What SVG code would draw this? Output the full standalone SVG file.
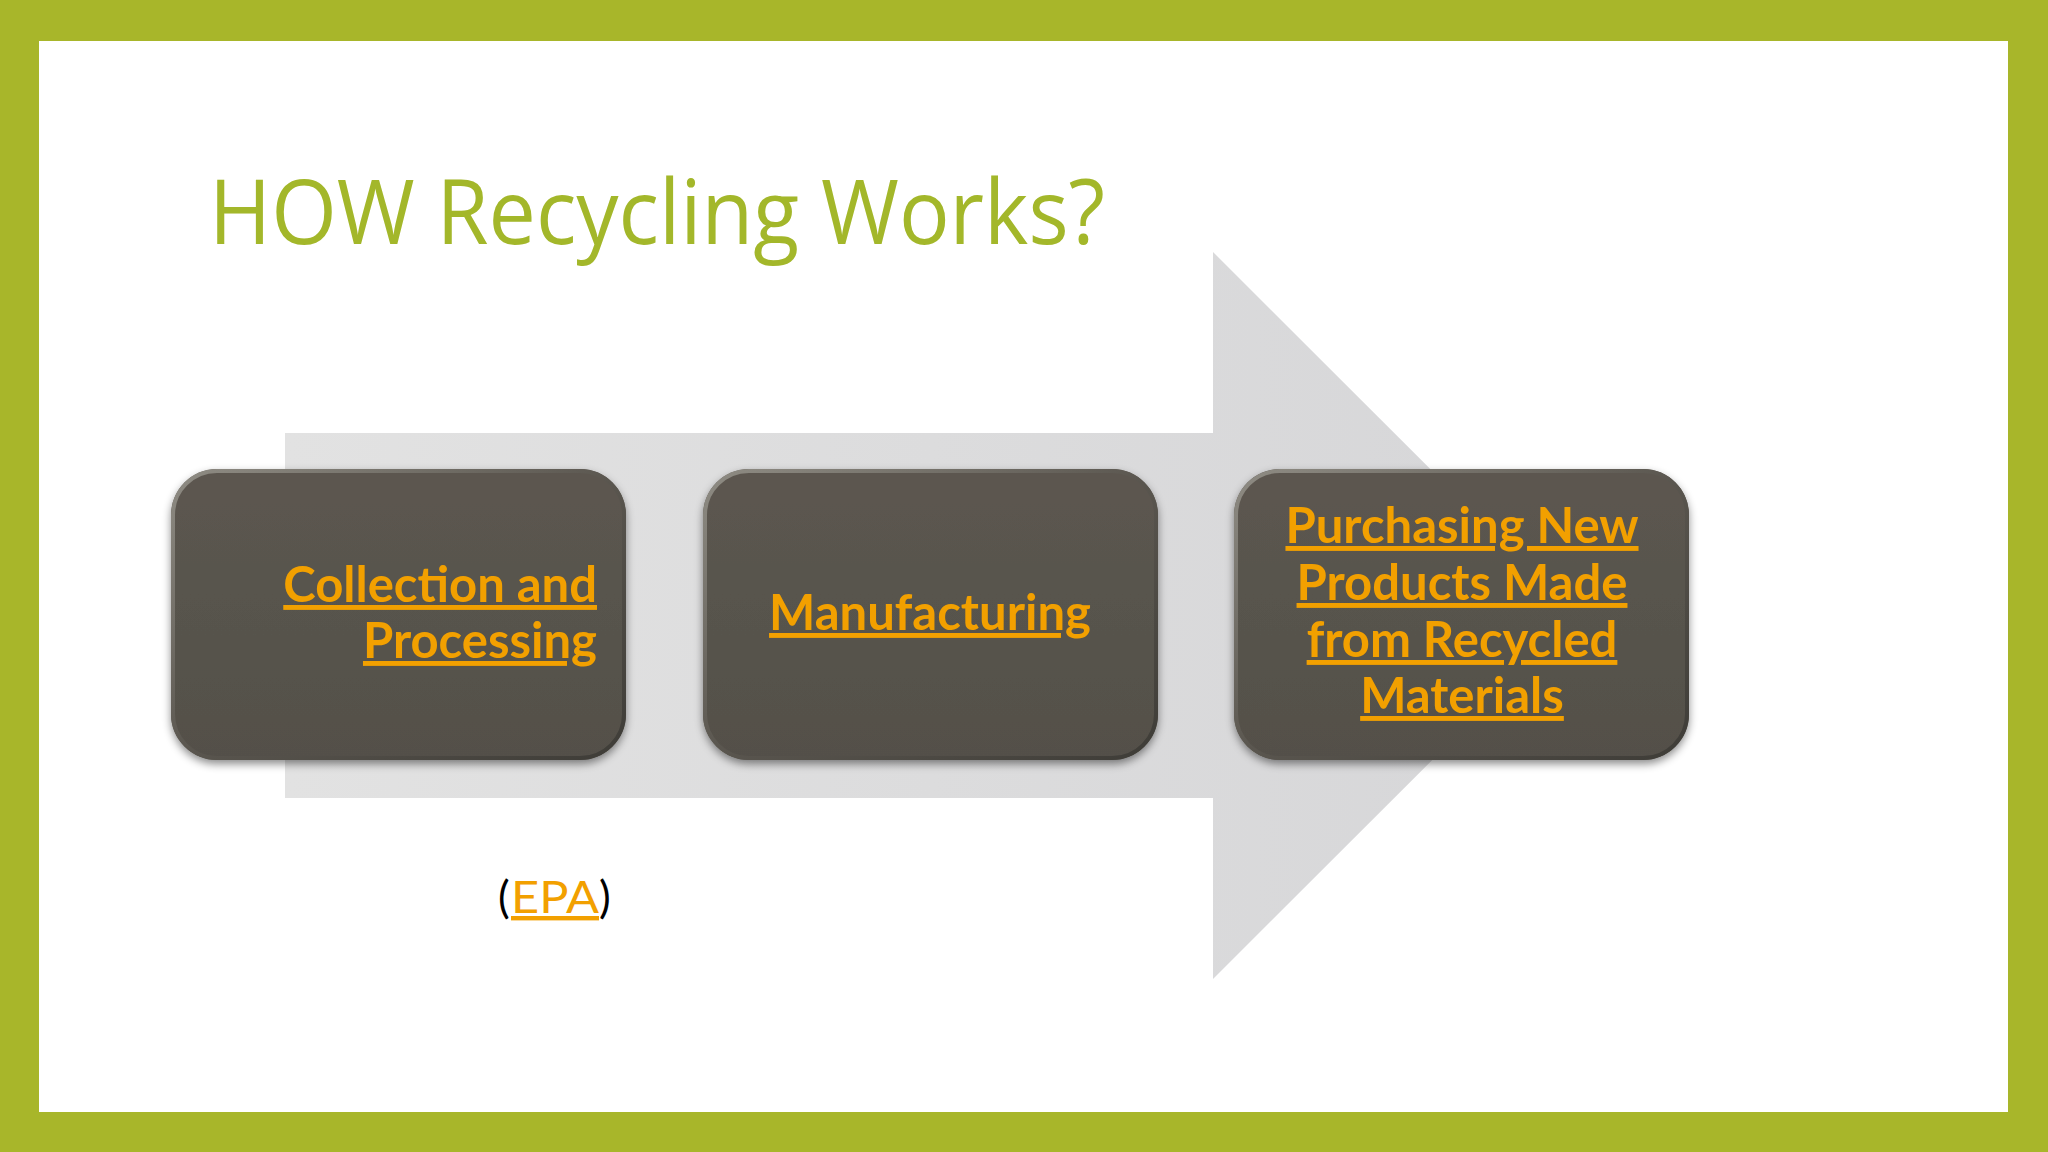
<svg xmlns="http://www.w3.org/2000/svg" width="2048" height="1152" viewBox="0 0 2048 1152">
<style>
.lbl{font-family:Lato,"Open Sans","Liberation Sans",sans-serif;font-weight:bold;font-size:49px;fill:#F2A000;text-decoration:underline;}
.title{font-family:"Open Sans","Liberation Sans",sans-serif;font-size:90px;fill:#A3B72A;}
.src{font-family:Lato,"Open Sans","Liberation Sans",sans-serif;font-size:44px;}
</style>
<defs>
<linearGradient id="arrowGrad" x1="0" y1="0" x2="1" y2="0">
<stop offset="0" stop-color="#E2E2E2"/>
<stop offset="1" stop-color="#D6D6D8"/>
</linearGradient>
<linearGradient id="boxGrad" x1="0" y1="0" x2="0" y2="1">
<stop offset="0" stop-color="#5C5750"/>
<stop offset="1" stop-color="#535049"/>
</linearGradient>
<linearGradient id="bevel" x1="0" y1="0" x2="1" y2="1">
<stop offset="0" stop-color="#8f8c84"/>
<stop offset="0.5" stop-color="#5a564f"/>
<stop offset="1" stop-color="#3e3c37"/>
</linearGradient>
<filter id="shadow" x="-10%" y="-10%" width="120%" height="130%">
<feDropShadow dx="0" dy="4" stdDeviation="4" flood-color="#000" flood-opacity="0.45"/>
</filter>
</defs>
<rect x="0" y="0" width="2048" height="1152" fill="#A8B62A"/>
<rect x="39" y="41" width="1969" height="1071" fill="#FFFFFF"/>
<g id="title"><text class="title" x="209" y="244" textLength="896" lengthAdjust="spacingAndGlyphs">HOW Recycling Works?</text></g>
<g id="connectors">
<polygon id="arrow" points="285,433 1213,433 1213,252 1577,615.5 1213,979 1213,798 285,798" fill="url(#arrowGrad)"/>
</g>
<g id="box1">
<rect x="171" y="469" width="455" height="291" rx="46" fill="url(#boxGrad)" filter="url(#shadow)"/>
<rect x="173" y="471" width="451" height="287" rx="44" fill="none" stroke="url(#bevel)" stroke-width="4"/>
<text class="lbl" text-anchor="end"><tspan x="597" y="602">Collection and</tspan><tspan x="597" y="658">Processing</tspan></text>
</g>
<g id="box2">
<rect x="703" y="469" width="455" height="291" rx="46" fill="url(#boxGrad)" filter="url(#shadow)"/>
<rect x="705" y="471" width="451" height="287" rx="44" fill="none" stroke="url(#bevel)" stroke-width="4"/>
<text class="lbl" text-anchor="middle" x="930" y="630">Manufacturing</text>
</g>
<g id="box3">
<rect x="1234" y="469" width="455" height="291" rx="46" fill="url(#boxGrad)" filter="url(#shadow)"/>
<rect x="1236" y="471" width="451" height="287" rx="44" fill="none" stroke="url(#bevel)" stroke-width="4"/>
<text class="lbl" text-anchor="middle"><tspan x="1462" y="543">Purchasing New</tspan><tspan x="1462" y="600">Products Made</tspan><tspan x="1462" y="657">from Recycled</tspan><tspan x="1462" y="713">Materials</tspan></text>
</g>
<g id="source">
<text class="src" x="498" y="913" font-size="34" fill="#000">(</text>
<text class="src" x="511" y="913" fill="#F2A000" text-decoration="underline" textLength="88" lengthAdjust="spacingAndGlyphs">EPA</text>
<text class="src" x="599" y="913" font-size="34" fill="#000">)</text>
</g>
</svg>
